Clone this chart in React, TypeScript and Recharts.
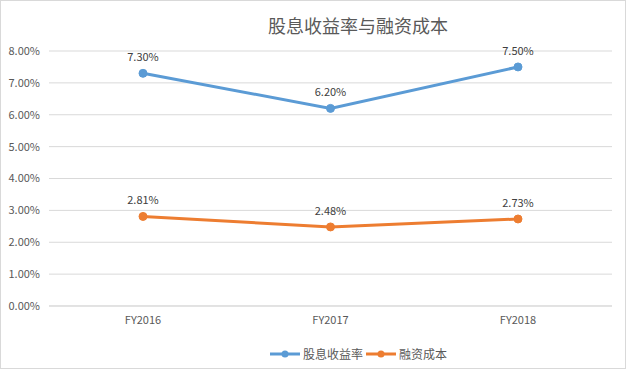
import React from 'react';
import { LineChart, Line, XAxis, YAxis, CartesianGrid, LabelList } from 'recharts';

const categories = ['FY2016', 'FY2017', 'FY2018'];
const dividendYield = [7.3, 6.2, 7.5];
const financingCost = [2.81, 2.48, 2.73];
const yTicks = [0, 1, 2, 3, 4, 5, 6, 7, 8];

const seriesNames = { a: '股息收益率', b: '融资成本' };
const colors = { a: '#5B9BD5', b: '#ED7D31' };

const data = categories.map((c, i) => ({ name: c, a: dividendYield[i], b: financingCost[i] }));

const font = '"Noto Sans CJK SC", "Noto Sans", sans-serif';

const LegendBox = () => {
  const items = [
    { key: 'a', name: seriesNames.a, color: colors.a },
    { key: 'b', name: seriesNames.b, color: colors.b },
  ];
  return (
    <div style={{ position: 'absolute', left: 270, top: 345, display: 'flex', alignItems: 'center', fontFamily: font, fontSize: 12, color: '#595959', lineHeight: '18px' }}>
      {items.map((it) => (
        <div key={it.key} style={{ display: 'flex', alignItems: 'center', marginRight: 3 }}>
          <svg width={30} height={10} style={{ marginRight: 3 }}>
            <line x1={0} y1={5} x2={30} y2={5} stroke={it.color} strokeWidth={3} />
            <circle cx={15} cy={5} r={3.5} fill={it.color} />
          </svg>
          <span>{it.name}</span>
        </div>
      ))}
    </div>
  );
};

export default function App() {
  return (
    <div style={{ position: 'absolute', left: 0, top: 0, width: 626, height: 369, background: '#fff' }}>
      <div style={{ position: 'absolute', left: 0, top: 0, width: 626, height: 369, border: '1px solid #D9D9D9', boxSizing: 'border-box' }} />
      <div style={{ position: 'absolute', left: 100, width: 516, top: 12, textAlign: 'center', fontFamily: font, fontSize: 18, color: '#595959', lineHeight: '26px' }}>
        股息收益率与融资成本
      </div>
      <LineChart width={626} height={369} data={data} margin={{ top: 51, right: 14, bottom: 33, left: 0 }} style={{ position: 'absolute', left: 0, top: 0 }}>
        <CartesianGrid vertical={false} stroke="#D9D9D9" />
        <XAxis dataKey="name" height={30} axisLine={{ stroke: '#D9D9D9' }} tickLine={false} tickSize={0} tickMargin={10}
          padding={{ left: 94, right: 94 }}
          tick={{ fontSize: 11, fill: '#595959', fontFamily: font }} />
        <YAxis width={49} domain={[0, 8]} ticks={yTicks} axisLine={false} tickLine={false} tickSize={0} tickMargin={9}
          tickFormatter={(v: number) => v.toFixed(2) + '%'} tick={{ fontSize: 11, fill: '#595959', fontFamily: font }} />
        <Line dataKey="a" name={seriesNames.a} stroke={colors.a} strokeWidth={3} isAnimationActive={false}
          dot={{ r: 4, fill: colors.a, stroke: colors.a, strokeWidth: 1 }}>
          <LabelList dataKey="a" position="top" offset={12} formatter={(v: number) => v.toFixed(2) + '%'}
            style={{ fontSize: 11, fill: '#404040', fontFamily: font }} />
        </Line>
        <Line dataKey="b" name={seriesNames.b} stroke={colors.b} strokeWidth={3} isAnimationActive={false}
          dot={{ r: 4, fill: colors.b, stroke: colors.b, strokeWidth: 1 }}>
          <LabelList dataKey="b" position="top" offset={12} formatter={(v: number) => v.toFixed(2) + '%'}
            style={{ fontSize: 11, fill: '#404040', fontFamily: font }} />
        </Line>
      </LineChart>
      <LegendBox />
    </div>
  );
}
